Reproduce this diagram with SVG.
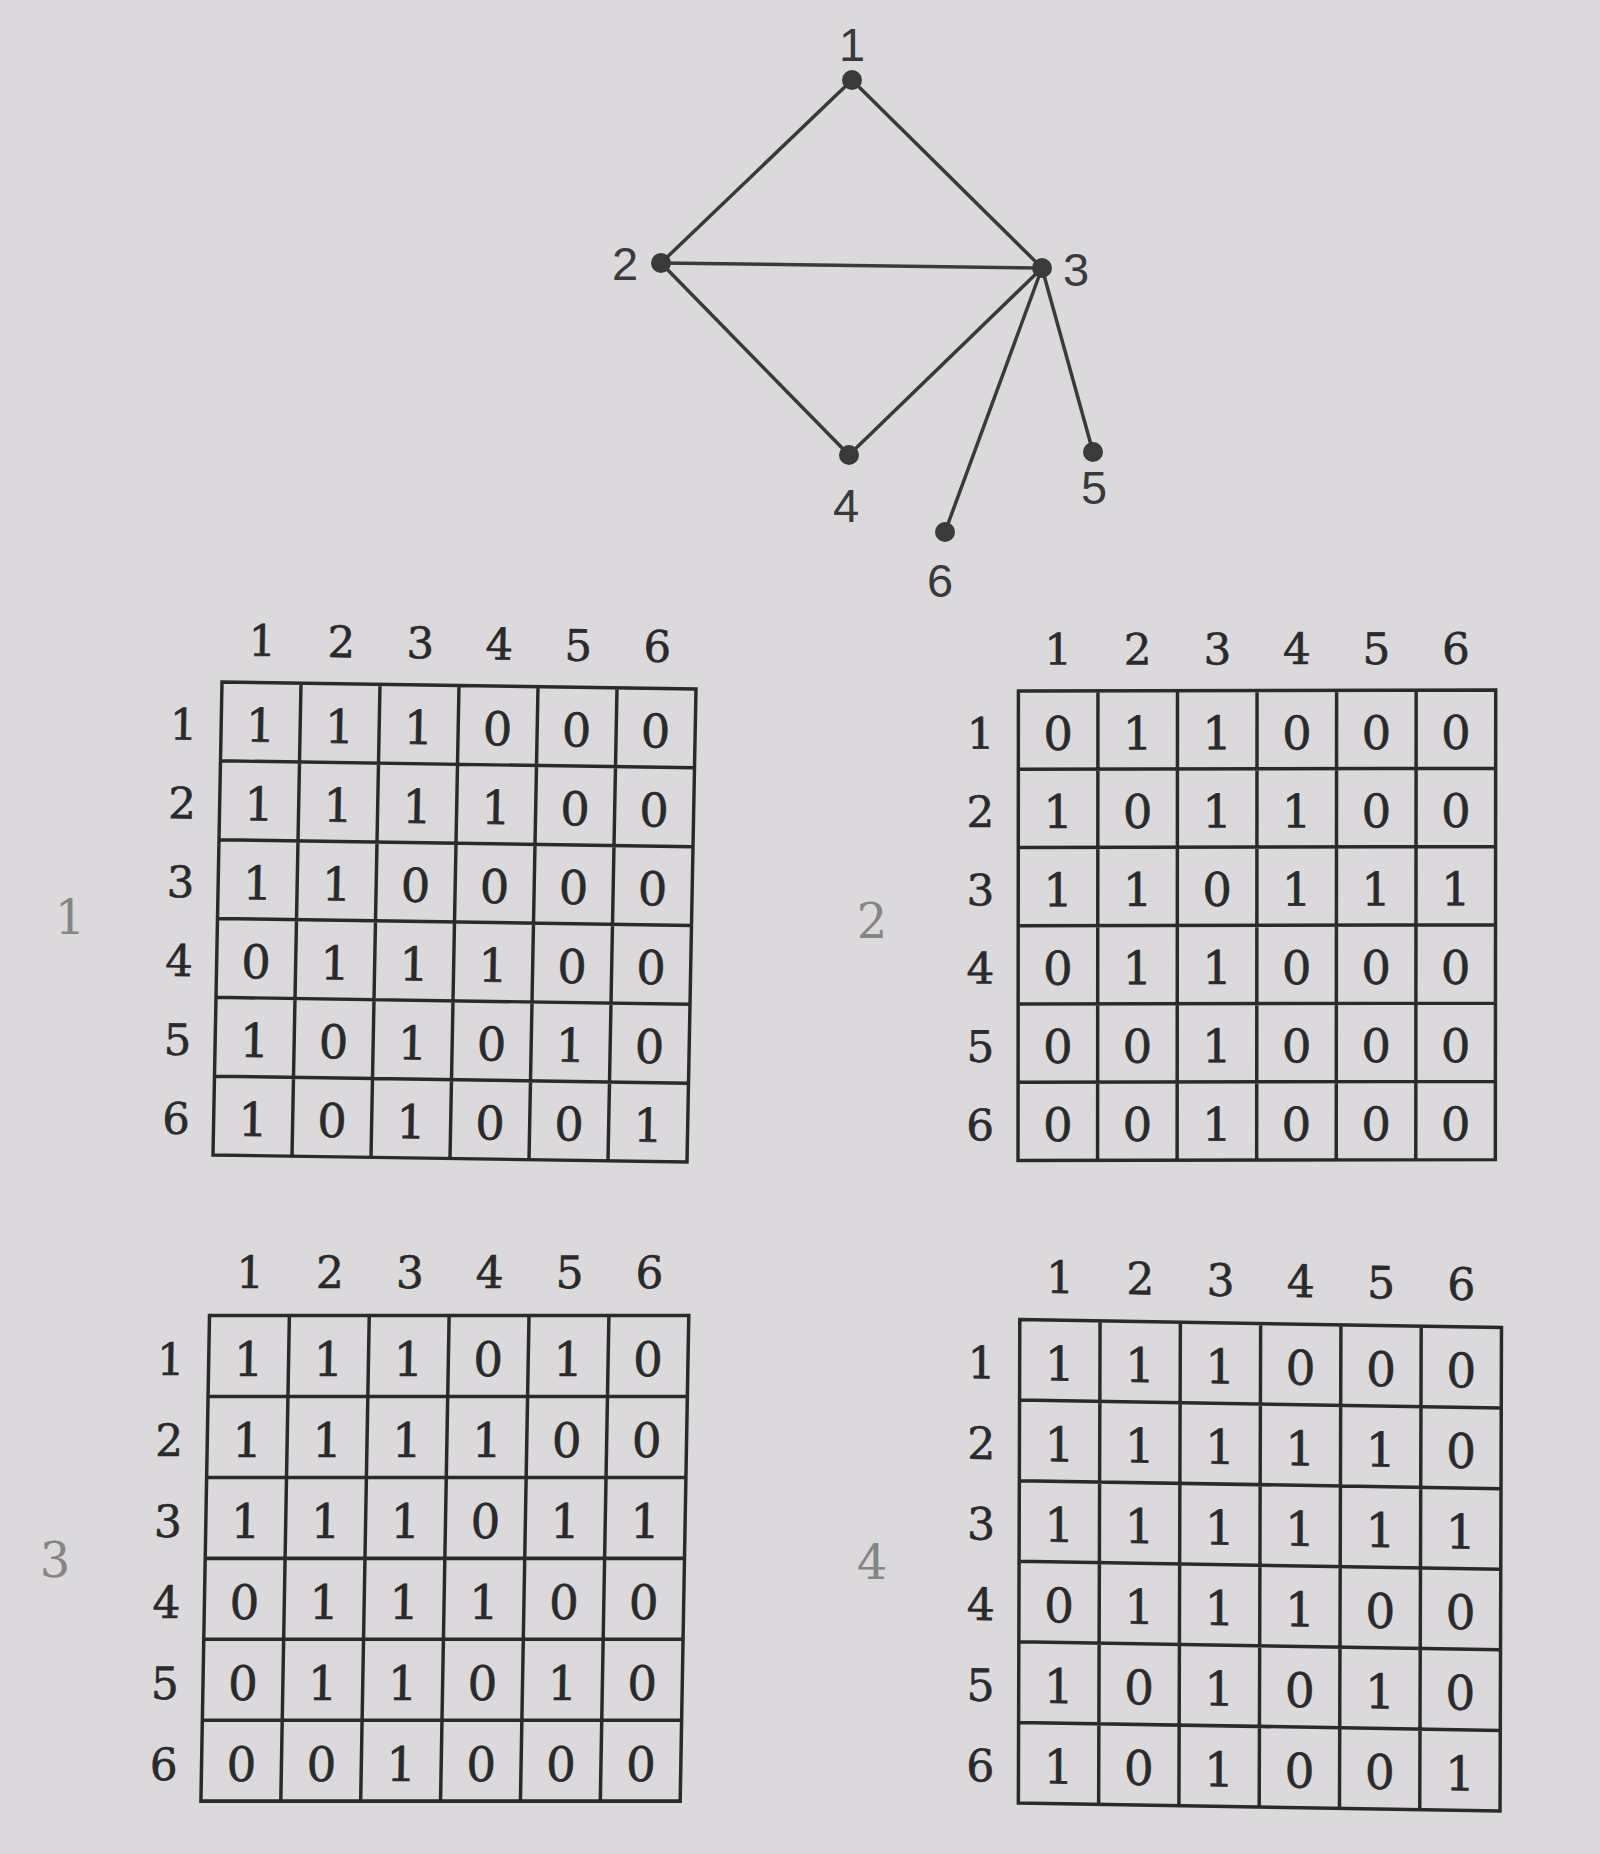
<svg xmlns="http://www.w3.org/2000/svg" width="1600" height="1854" viewBox="0 0 1600 1854">
<style>
.bg{fill:#dcd9dd}
.edge{stroke:#3a3a3a;stroke-width:3.5;fill:none;stroke-linecap:round}
.dot{fill:#3a3a3a}
.glabel{font-family:"Liberation Sans","Arial",sans-serif;font-size:47px;fill:#3a3a3a;text-anchor:middle}
.grid{fill:none;stroke:#2a2a2a;stroke-width:3.5}
.hd{font-family:"DejaVu Serif","Liberation Serif",serif;font-size:44px;fill:#2a2a2a;stroke:#2a2a2a;stroke-width:0.6;text-anchor:middle}
.c{font-family:"DejaVu Serif","Liberation Serif",serif;font-size:47px;fill:#2a2a2a;stroke:#2a2a2a;stroke-width:0.6;text-anchor:middle}
.side{font-family:"DejaVu Serif","Liberation Serif",serif;font-size:48px;fill:#858585;text-anchor:middle}
</style>
<rect class="bg" x="0" y="0" width="1600" height="1854"/>

<g id="graph">
<g id="connectors">
<line class="edge" x1="852" y1="80" x2="661" y2="263"/>
<line class="edge" x1="852" y1="80" x2="1042" y2="268"/>
<line class="edge" x1="661" y1="263" x2="1042" y2="268"/>
<line class="edge" x1="661" y1="263" x2="849" y2="455"/>
<line class="edge" x1="1042" y1="268" x2="849" y2="455"/>
<line class="edge" x1="1042" y1="268" x2="945" y2="532"/>
<line class="edge" x1="1042" y1="268" x2="1093" y2="452"/>
</g>
<g id="node1"><circle class="dot" cx="852" cy="80" r="10"/><text class="glabel" x="852" y="61">1</text></g>
<g id="node2"><circle class="dot" cx="661" cy="263" r="10"/><text class="glabel" x="625" y="280">2</text></g>
<g id="node3"><circle class="dot" cx="1042" cy="268" r="10"/><text class="glabel" x="1076" y="286">3</text></g>
<g id="node4"><circle class="dot" cx="849" cy="455" r="10"/><text class="glabel" x="846" y="522">4</text></g>
<g id="node5"><circle class="dot" cx="1093" cy="452" r="10"/><text class="glabel" x="1094" y="504">5</text></g>
<g id="node6"><circle class="dot" cx="945" cy="532" r="10"/><text class="glabel" x="940" y="597">6</text></g>
</g>

<defs>
<path id="gridlines" d="M0 0H480V480H0Z M80 0V480 M160 0V480 M240 0V480 M320 0V480 M400 0V480 M0 80H480 M0 160H480 M0 240H480 M0 320H480 M0 400H480"/>
</defs>

<g id="matrix1" transform="matrix(0.9875 0.01458 -0.01875 0.98542 222 682)">
<use href="#gridlines" class="grid"/>
<text class="hd" x="40" y="-27">1</text><text class="hd" x="120" y="-27">2</text><text class="hd" x="200" y="-27">3</text><text class="hd" x="280" y="-27">4</text><text class="hd" x="360" y="-27">5</text><text class="hd" x="440" y="-27">6</text>
<text class="hd" x="-38" y="59">1</text><text class="hd" x="-38" y="139">2</text><text class="hd" x="-38" y="219">3</text><text class="hd" x="-38" y="299">4</text><text class="hd" x="-38" y="379">5</text><text class="hd" x="-38" y="459">6</text>
<text class="c" x="40" y="60">1</text><text class="c" x="120" y="60">1</text><text class="c" x="200" y="60">1</text><text class="c" x="280" y="60">0</text><text class="c" x="360" y="60">0</text><text class="c" x="440" y="60">0</text>
<text class="c" x="40" y="140">1</text><text class="c" x="120" y="140">1</text><text class="c" x="200" y="140">1</text><text class="c" x="280" y="140">1</text><text class="c" x="360" y="140">0</text><text class="c" x="440" y="140">0</text>
<text class="c" x="40" y="220">1</text><text class="c" x="120" y="220">1</text><text class="c" x="200" y="220">0</text><text class="c" x="280" y="220">0</text><text class="c" x="360" y="220">0</text><text class="c" x="440" y="220">0</text>
<text class="c" x="40" y="300">0</text><text class="c" x="120" y="300">1</text><text class="c" x="200" y="300">1</text><text class="c" x="280" y="300">1</text><text class="c" x="360" y="300">0</text><text class="c" x="440" y="300">0</text>
<text class="c" x="40" y="380">1</text><text class="c" x="120" y="380">0</text><text class="c" x="200" y="380">1</text><text class="c" x="280" y="380">0</text><text class="c" x="360" y="380">1</text><text class="c" x="440" y="380">0</text>
<text class="c" x="40" y="460">1</text><text class="c" x="120" y="460">0</text><text class="c" x="200" y="460">1</text><text class="c" x="280" y="460">0</text><text class="c" x="360" y="460">0</text><text class="c" x="440" y="460">1</text>
</g>
<text id="label1" class="side" x="70" y="934">1</text>

<g id="matrix2" transform="matrix(0.9944 -0.002 -0.0008 0.9783 1018.4 691)">
<use href="#gridlines" class="grid"/>
<text class="hd" x="40" y="-27">1</text><text class="hd" x="120" y="-27">2</text><text class="hd" x="200" y="-27">3</text><text class="hd" x="280" y="-27">4</text><text class="hd" x="360" y="-27">5</text><text class="hd" x="440" y="-27">6</text>
<text class="hd" x="-38" y="59">1</text><text class="hd" x="-38" y="139">2</text><text class="hd" x="-38" y="219">3</text><text class="hd" x="-38" y="299">4</text><text class="hd" x="-38" y="379">5</text><text class="hd" x="-38" y="459">6</text>
<text class="c" x="40" y="60">0</text><text class="c" x="120" y="60">1</text><text class="c" x="200" y="60">1</text><text class="c" x="280" y="60">0</text><text class="c" x="360" y="60">0</text><text class="c" x="440" y="60">0</text>
<text class="c" x="40" y="140">1</text><text class="c" x="120" y="140">0</text><text class="c" x="200" y="140">1</text><text class="c" x="280" y="140">1</text><text class="c" x="360" y="140">0</text><text class="c" x="440" y="140">0</text>
<text class="c" x="40" y="220">1</text><text class="c" x="120" y="220">1</text><text class="c" x="200" y="220">0</text><text class="c" x="280" y="220">1</text><text class="c" x="360" y="220">1</text><text class="c" x="440" y="220">1</text>
<text class="c" x="40" y="300">0</text><text class="c" x="120" y="300">1</text><text class="c" x="200" y="300">1</text><text class="c" x="280" y="300">0</text><text class="c" x="360" y="300">0</text><text class="c" x="440" y="300">0</text>
<text class="c" x="40" y="380">0</text><text class="c" x="120" y="380">0</text><text class="c" x="200" y="380">1</text><text class="c" x="280" y="380">0</text><text class="c" x="360" y="380">0</text><text class="c" x="440" y="380">0</text>
<text class="c" x="40" y="460">0</text><text class="c" x="120" y="460">0</text><text class="c" x="200" y="460">1</text><text class="c" x="280" y="460">0</text><text class="c" x="360" y="460">0</text><text class="c" x="440" y="460">0</text>
</g>
<text id="label2" class="side" x="872" y="938">2</text>

<g id="matrix3" transform="matrix(0.9985 0 -0.0179 1.0115 209.5 1315.6)">
<use href="#gridlines" class="grid"/>
<text class="hd" x="40" y="-27">1</text><text class="hd" x="120" y="-27">2</text><text class="hd" x="200" y="-27">3</text><text class="hd" x="280" y="-27">4</text><text class="hd" x="360" y="-27">5</text><text class="hd" x="440" y="-27">6</text>
<text class="hd" x="-38" y="59">1</text><text class="hd" x="-38" y="139">2</text><text class="hd" x="-38" y="219">3</text><text class="hd" x="-38" y="299">4</text><text class="hd" x="-38" y="379">5</text><text class="hd" x="-38" y="459">6</text>
<text class="c" x="40" y="60">1</text><text class="c" x="120" y="60">1</text><text class="c" x="200" y="60">1</text><text class="c" x="280" y="60">0</text><text class="c" x="360" y="60">1</text><text class="c" x="440" y="60">0</text>
<text class="c" x="40" y="140">1</text><text class="c" x="120" y="140">1</text><text class="c" x="200" y="140">1</text><text class="c" x="280" y="140">1</text><text class="c" x="360" y="140">0</text><text class="c" x="440" y="140">0</text>
<text class="c" x="40" y="220">1</text><text class="c" x="120" y="220">1</text><text class="c" x="200" y="220">1</text><text class="c" x="280" y="220">0</text><text class="c" x="360" y="220">1</text><text class="c" x="440" y="220">1</text>
<text class="c" x="40" y="300">0</text><text class="c" x="120" y="300">1</text><text class="c" x="200" y="300">1</text><text class="c" x="280" y="300">1</text><text class="c" x="360" y="300">0</text><text class="c" x="440" y="300">0</text>
<text class="c" x="40" y="380">0</text><text class="c" x="120" y="380">1</text><text class="c" x="200" y="380">1</text><text class="c" x="280" y="380">0</text><text class="c" x="360" y="380">1</text><text class="c" x="440" y="380">0</text>
<text class="c" x="40" y="460">0</text><text class="c" x="120" y="460">0</text><text class="c" x="200" y="460">1</text><text class="c" x="280" y="460">0</text><text class="c" x="360" y="460">0</text><text class="c" x="440" y="460">0</text>
</g>
<text id="label3" class="side" x="55" y="1577">3</text>

<g id="matrix4" transform="matrix(1.0035 0.0167 -0.003 1.0073 1019.8 1319.5)">
<use href="#gridlines" class="grid"/>
<text class="hd" x="40" y="-27">1</text><text class="hd" x="120" y="-27">2</text><text class="hd" x="200" y="-27">3</text><text class="hd" x="280" y="-27">4</text><text class="hd" x="360" y="-27">5</text><text class="hd" x="440" y="-27">6</text>
<text class="hd" x="-38" y="59">1</text><text class="hd" x="-38" y="139">2</text><text class="hd" x="-38" y="219">3</text><text class="hd" x="-38" y="299">4</text><text class="hd" x="-38" y="379">5</text><text class="hd" x="-38" y="459">6</text>
<text class="c" x="40" y="60">1</text><text class="c" x="120" y="60">1</text><text class="c" x="200" y="60">1</text><text class="c" x="280" y="60">0</text><text class="c" x="360" y="60">0</text><text class="c" x="440" y="60">0</text>
<text class="c" x="40" y="140">1</text><text class="c" x="120" y="140">1</text><text class="c" x="200" y="140">1</text><text class="c" x="280" y="140">1</text><text class="c" x="360" y="140">1</text><text class="c" x="440" y="140">0</text>
<text class="c" x="40" y="220">1</text><text class="c" x="120" y="220">1</text><text class="c" x="200" y="220">1</text><text class="c" x="280" y="220">1</text><text class="c" x="360" y="220">1</text><text class="c" x="440" y="220">1</text>
<text class="c" x="40" y="300">0</text><text class="c" x="120" y="300">1</text><text class="c" x="200" y="300">1</text><text class="c" x="280" y="300">1</text><text class="c" x="360" y="300">0</text><text class="c" x="440" y="300">0</text>
<text class="c" x="40" y="380">1</text><text class="c" x="120" y="380">0</text><text class="c" x="200" y="380">1</text><text class="c" x="280" y="380">0</text><text class="c" x="360" y="380">1</text><text class="c" x="440" y="380">0</text>
<text class="c" x="40" y="460">1</text><text class="c" x="120" y="460">0</text><text class="c" x="200" y="460">1</text><text class="c" x="280" y="460">0</text><text class="c" x="360" y="460">0</text><text class="c" x="440" y="460">1</text>
</g>
<text id="label4" class="side" x="872" y="1579">4</text>
</svg>
